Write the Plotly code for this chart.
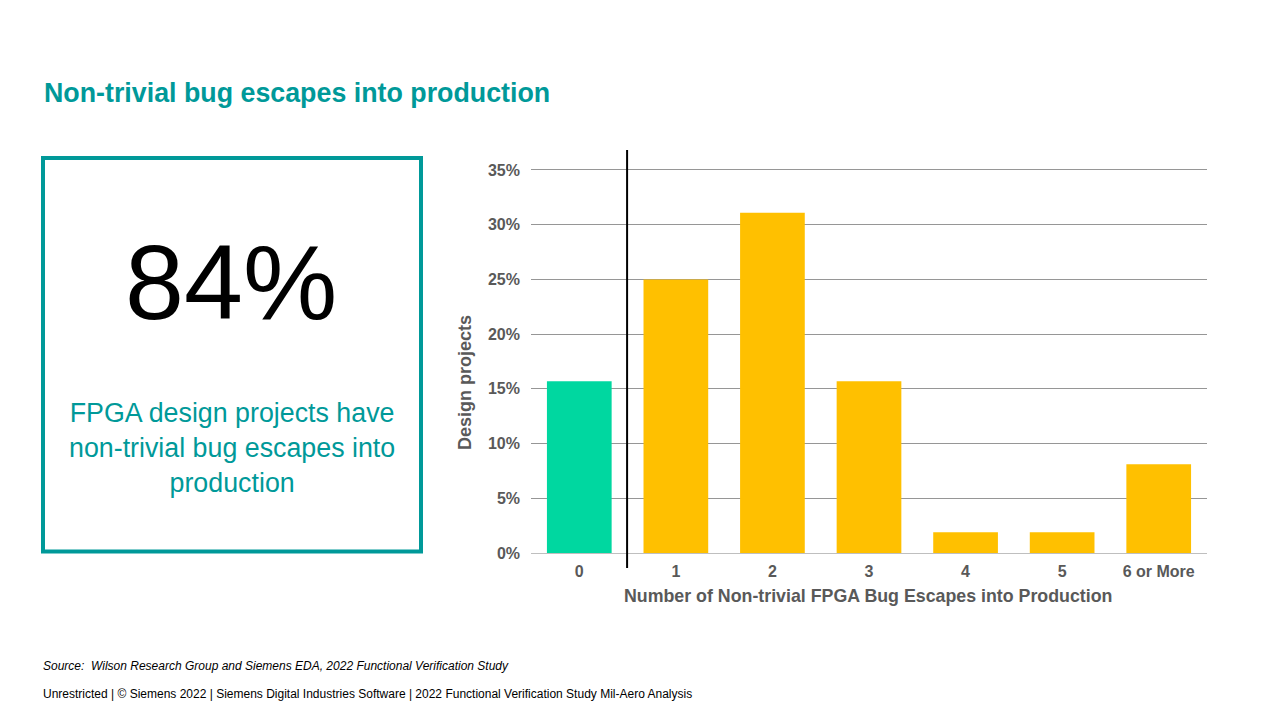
import plotly.graph_objects as go

categories = ['0', '1', '2', '3', '4', '5', '6 or More']
design_projects = [15.7, 25.0, 31.1, 15.7, 1.9, 1.9, 8.1]
bar_colors = ['#00D7A0', '#FFC000', '#FFC000', '#FFC000', '#FFC000', '#FFC000', '#FFC000']
y_ticks = [0, 5, 10, 15, 20, 25, 30, 35]
y_labels = ['0%', '5%', '10%', '15%', '20%', '25%', '30%', '35%']

W, H = 1280, 720
FONT = 'Liberation Sans'
TEAL = '#009999'
GREY = '#595959'


def px(x):
    return x / W


def py(y):
    return 1 - y / H


def note(text, x, y, size, color, anchor='left', **kw):
    return dict(text=text, x=px(x), y=py(y), xref='paper', yref='paper', xanchor=anchor, yanchor='middle',
                showarrow=False, font=dict(family=FONT, size=size, color=color), **kw)


fig = go.Figure(go.Bar(x=categories, y=design_projects, marker=dict(color=bar_colors, line=dict(width=0)),
                       width=0.67, hoverinfo='skip'))

fig.update_layout(
    width=W, height=H, margin=dict(l=0, r=0, t=0, b=0), autosize=False,
    paper_bgcolor='white', plot_bgcolor='white', showlegend=False,
    font=dict(family=FONT, color=GREY),
    xaxis=dict(domain=[px(531), px(1207)], type='category', categoryorder='array', categoryarray=categories,
               tickmode='array', tickvals=categories, ticktext=[f'<b>{c}</b>' for c in categories],
               range=[-0.5, 6.5], showgrid=False, zeroline=False, showline=True, linecolor='#BFBFBF', linewidth=1,
               ticks='', ticklabelstandoff=4, tickfont=dict(family=FONT, size=16, color=GREY), anchor='y',
               automargin=False),
    # range runs a hair past 35 so the top gridline is still drawn
    yaxis=dict(domain=[py(553), py(168.9)], range=[0, 35.1], tickvals=y_ticks,
               ticktext=[f'<b>{t}</b>' for t in y_labels],
               showgrid=True, gridcolor='#969696', gridwidth=1, zeroline=False, showline=False, ticks='',
               ticklabelstandoff=10, tickfont=dict(family=FONT, size=16, color=GREY), anchor='x', automargin=False),
    shapes=[
        dict(type='rect', xref='paper', yref='paper', x0=px(43), x1=px(421), y0=py(158), y1=py(551.5),
             line=dict(color=TEAL, width=4), fillcolor='rgba(0,0,0,0)', layer='above'),
        dict(type='line', xref='x', yref='paper', x0=0.495, x1=0.495, y0=py(150), y1=py(568),
             line=dict(color='black', width=2), layer='above'),
    ],
    annotations=[
        note('<b>Non-trivial bug escapes into production</b>', 41.5, 93, 26.8, TEAL),
        note('84%', 231, 282, 106, 'black', anchor='center'),
        note('FPGA design projects have<br>non-trivial bug escapes into<br>production', 232, 448, 26.8, TEAL,
             anchor='center', align='center'),
        note('<b>Number of Non-trivial FPGA Bug Escapes into Production</b>', 868, 596, 17.8, GREY, anchor='center'),
        note('<b>Design projects</b>', 465, 383, 18, GREY, anchor='center', textangle=-90),
        note('<i>Source:  Wilson Research Group and Siemens EDA, 2022 Functional Verification Study</i>', 41, 666, 12,
             'black'),
        note('Unrestricted | © Siemens 2022 | Siemens Digital Industries Software | 2022 Functional Verification Study Mil-Aero Analysis',
             41, 694, 12, 'black'),
    ],
)

fig.write_html("out.html", config=dict(displayModeBar=False),
               post_script="document.body.style.margin='0';")
